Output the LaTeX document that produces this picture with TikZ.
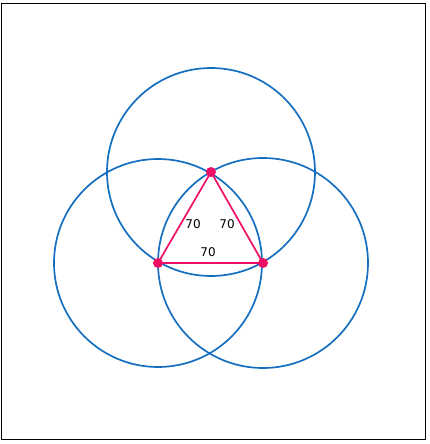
\documentclass[tikz,border=0pt]{standalone}
\usepackage{fontspec}
\setmainfont{DejaVu Sans}
\definecolor{ringblue}{RGB}{21,111,192}
\definecolor{sidepink}{RGB}{238,16,102}
\tikzset{
  ring/.style={draw=ringblue, line width=1.7pt},
  side/.style={draw=sidepink, line width=1.7pt},
  vertex/.style={circle, fill=sidepink, inner sep=0pt, minimum size=10pt},
  len/.style={font=\fontsize{12}{14}\selectfont, inner sep=0pt}
}
\begin{document}
\begin{tikzpicture}[x=1pt, y=-1pt]
  \useasboundingbox (0, 0) rectangle (430, 444);
  \draw[line width=1pt] (1.5, 3.5) rectangle (425.5, 439); % frame
  % circles round each vertex
  \draw[ring] (211, 172) circle (104);
  \draw[ring] (158, 263) circle (104);
  \draw[ring] (263, 263) circle (105);
  % triangle
  \node[vertex] (top) at (211, 172) {};
  \node[vertex] (left) at (158, 263) {};
  \node[vertex] (right) at (263, 263) {};
  \draw[side] (top.center) -- (left.center) -- (right.center) -- cycle;
  \node[len] (ab) at (193, 224) {70};
  \node[len] (ac) at (227, 224) {70};
  \node[len] (bc) at (208, 252) {70};
\end{tikzpicture}
\end{document}
